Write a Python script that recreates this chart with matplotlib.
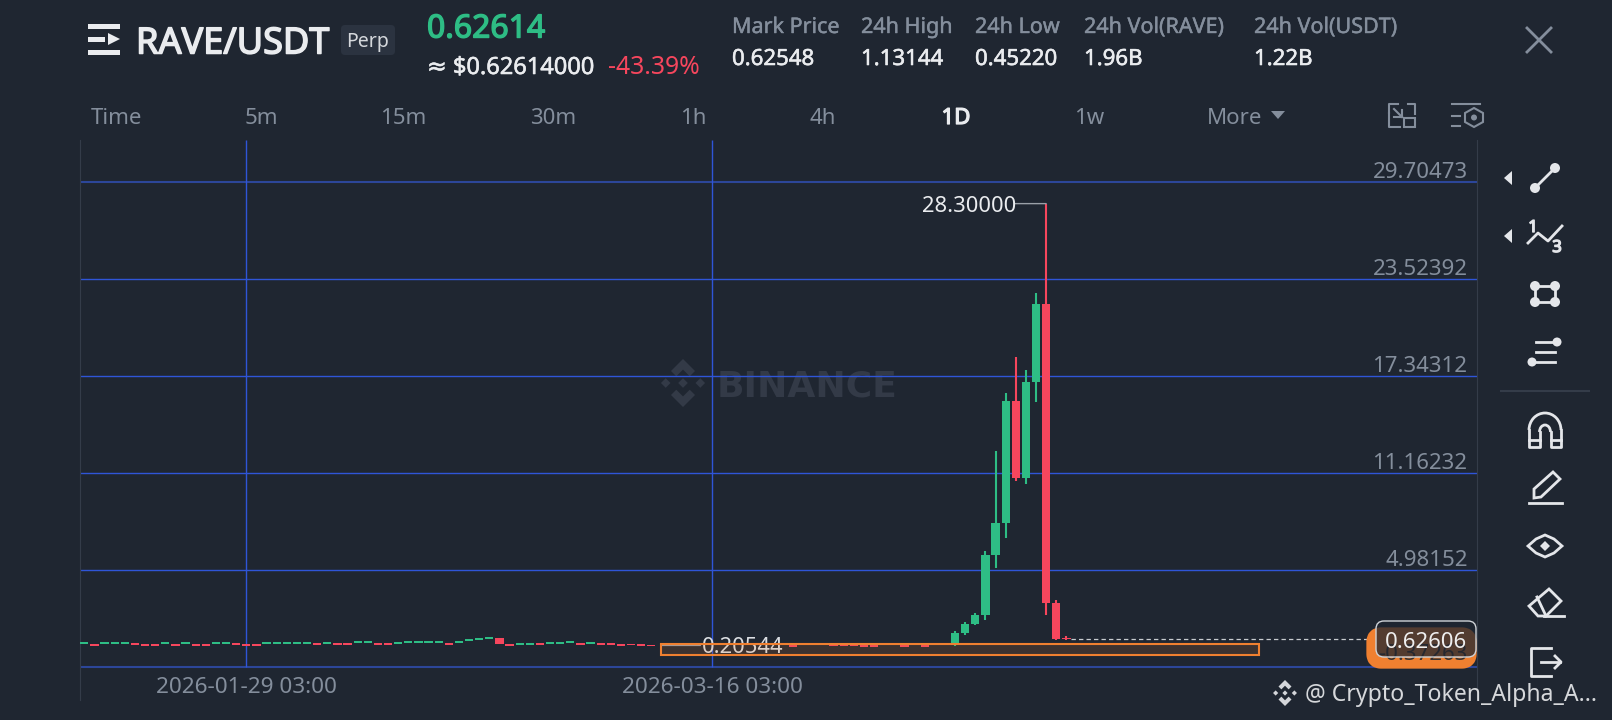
import numpy as np
import matplotlib
matplotlib.use('Agg')
import matplotlib.pyplot as plt
import matplotlib.patheffects as pe
from matplotlib.patches import Polygon, Rectangle, FancyBboxPatch, Circle, Arc

plt.rcParams['font.family'] = ['Noto Sans', 'DejaVu Sans']

# Daily candles, quiet stretch first (bodies only, wicks too small to see)
early_open = [.30, .31, .30, .32, .32, .36, .31, .31, .28, .29, .28, .29, .29, .28, .30, .33, .31, .31, .30, .30,
              .30, .32, .32, .36, .30, .36, .33, .34, .34, .33, .33, .32, .34, .34, .34, .36, .38, .36, .47, .55,
              .64, .66, .27, .23, .26, .35, .32, .32, .34, .35, .30, .35, .33, .27, .29, .27, .26, .25, .24, .24,
              .24, .26, .30, .25, .25, .30, .25, .25, .30, .24, .24, .24, .24, .25, .24, .24, .24, .24, .24, .24,
              .24, .24, .24, .24, .24, .24]
early_close = [.42, .19, .42, .44, .44, .24, .19, .19, .40, .17, .40, .17, .17, .40, .42, .21, .19, .19, .42, .42,
               .42, .44, .44, .24, .42, .24, .21, .46, .46, .21, .21, .44, .46, .46, .46, .48, .26, .48, .59, .67,
               .76, .27, .15, .35, .38, .23, .44, .44, .46, .23, .42, .23, .21, .15, .20, .19, .19, .21, .37, .38,
               .38, .36, .22, .36, .36, .22, .36, .36, .22, .36, .13, .36, .36, .38, .18, .18, .18, .13, .13, .36,
               .36, .12, .36, .12, .36, .36]

# The run up and the crash
late_open = [.23, .97, 1.59, 2.16, 5.93, 8.01, 15.77, 10.87, 16.96, 21.93, 2.90, .66]
late_close = [.975, 1.57, 2.12, 5.93, 8.01, 15.77, 10.87, 16.96, 21.93, 2.90, .61, .626]
late_high = [1.12, 1.67, 2.25, 6.23, 12.57, 16.23, 18.55, 17.72, 22.64, 28.30, 3.09, .80]
late_low = [.18, .89, 1.53, 1.82, 5.15, 7.05, 10.66, 10.49, 15.66, 2.16, .55, .55]

price_ticks = [29.70473, 23.52392, 17.34312, 11.16232, 4.98152, -1.19928]
price_labels = ['29.70473', '23.52392', '17.34312', '11.16232', '4.98152']
date_ticks = [16, 62]
date_labels = ['2026-01-29 03:00', '2026-03-16 03:00']
high_value = 28.30
low_value = 0.20544
last_price = 0.62606
hidden_tag = '-0.37263'

tabs = ['5m', '15m', '30m', '1h', '4h', '1D', '1w', 'More']
tab_x = [261, 403, 553, 693, 823, 956, 1089, 1235]
stats = [('Mark Price', '0.62548', 732), ('24h High', '1.13144', 861), ('24h Low', '0.45220', 975),
         ('24h Vol(RAVE)', '1.96B', 1084), ('24h Vol(USDT)', '1.22B', 1254)]

BG = '#1f2631'
GREEN = '#2ebd85'
RED = '#f6465d'
GRAY = '#848e9c'
WHITE = '#eaecef'
ORANGE = '#f08030'
BLUE = '#2f55d8'
ICON = '#e4e6ea'


def heavy(color, w=0.7):
    # Noto Sans only comes in one weight here, so thicken with a stroke
    return [pe.withStroke(linewidth=w, foreground=color)]


fig = plt.figure(figsize=(16.12, 7.2), dpi=100, facecolor=BG)

# Pixel overlay for the app chrome
ui = fig.add_axes([0, 0, 1, 1], zorder=5)
ui.set_xlim(0, 1612)
ui.set_ylim(720, 0)
ui.axis('off')

# Main chart, scales set so that gridlines land where the screenshot has them
ax = fig.add_axes([79.5 / 1612, 20 / 720, (1477 - 79.5) / 1612, 560 / 720], zorder=2)
ax.set_facecolor(BG)
ax.set_xlim(-0.474, 137.55)
ax.set_ylim(-3.2665, 32.346)
for s in ['top', 'bottom']:
    ax.spines[s].set_visible(False)
for s in ['left', 'right']:
    ax.spines[s].set_color('#343c49')
    ax.spines[s].set_linewidth(0.8)
ax.set_yticks([])
ax.set_xticks(date_ticks)
ax.set_xticklabels([])
ax.tick_params(axis='x', length=0)


def logo(target, cx, cy, r, color, zorder=1):
    shapes = [[(0, -.2), (.2, 0), (0, .2), (-.2, 0)],
              [(-.72, -.2), (-.52, 0), (-.72, .2), (-.92, 0)],
              [(.72, -.2), (.92, 0), (.72, .2), (.52, 0)],
              [(0, -1), (.5, -.5), (.28, -.28), (0, -.56), (-.28, -.28), (-.5, -.5)],
              [(0, 1), (.5, .5), (.28, .28), (0, .56), (-.28, .28), (-.5, .5)]]
    for pts in shapes:
        target.add_patch(Polygon([(cx + a * r, cy + b * r) for a, b in pts], closed=True, fc=color, ec='none',
                                 transform=ui.transData, zorder=zorder, clip_on=False))


# Watermark sits under the grid
logo(ax, 683, 383, 24, '#333a47', zorder=1)
ax.text(807, 383, 'BINANCE', transform=ui.transData, color='#333a47', fontsize=26, fontweight='bold',
        family='DejaVu Sans', ha='center', va='center_baseline', zorder=1)

# Grid
for i, p in enumerate(price_ticks):
    edge = i in (0, len(price_ticks) - 1)
    ax.axhline(p, color='#2c4699' if edge else BLUE, lw=1.5 if edge else 1.0, zorder=2)
for d in date_ticks:
    ax.vlines(d, price_ticks[-1], ax.get_ylim()[1], color=BLUE, lw=1.0, zorder=2)

# Candles
opens = np.array(early_open + late_open)
closes = np.array(early_close + late_close)
idx = np.arange(len(opens))
colors = [GREEN if c >= o else RED for o, c in zip(opens, closes)]
ax.bar(idx, np.abs(closes - opens), bottom=np.minimum(opens, closes), width=0.82, color=colors, zorder=3)
late_idx = idx[len(early_open):]
late_colors = colors[len(early_open):]
ax.vlines(late_idx, late_low, late_high, colors=late_colors, lw=1.5, zorder=3)

# High and low markers
ax.annotate('', xy=(late_idx[9], high_value), xytext=(-31, 0), textcoords='offset pixels',
            arrowprops=dict(arrowstyle='-', color='#9aa0a8', lw=1, shrinkA=0, shrinkB=0), zorder=4)
ax.text(1016, 204, f'{high_value:.5f}', transform=ui.transData, color=WHITE, fontsize=15.8, ha='right',
        va='center_baseline', zorder=4)
ax.annotate('', xy=(57, low_value), xytext=(39, 0), textcoords='offset pixels',
            arrowprops=dict(arrowstyle='-', color='#9aa0a8', lw=1, shrinkA=0, shrinkB=0), zorder=4)
ax.text(702, 645, f'{low_value:.5f}', transform=ui.transData, color='#dcdfe3', fontsize=15.8, ha='left',
        va='center_baseline', zorder=4)

# Last price line
ax.hlines(last_price, late_idx[-1] + 0.5, 127, color='#c8ccd0', lw=0.9, linestyles=(0, (3.5, 2.5)), zorder=4)

# Price labels above their lines
for p, lab in zip(price_ticks, price_labels):
    ax.annotate(lab, xy=(1, p), xycoords=('axes fraction', 'data'), xytext=(-9.5, 12), textcoords='offset pixels',
                color=GRAY, fontsize=16, ha='right', va='center_baseline', zorder=4)

for d, lab in zip(date_ticks, date_labels):
    ax.annotate(lab, xy=(d, 0), xycoords=('data', 'axes fraction'), xytext=(0, 15), textcoords='offset pixels',
                color=GRAY, fontsize=16.2, ha='center', va='center_baseline')

# Low range box and price tags
ui.add_patch(Rectangle((661, 644), 598, 11, fc=ORANGE, alpha=0.14, ec='none', zorder=6))
ui.add_patch(Rectangle((661, 644), 598, 11, fc='none', ec=ORANGE, lw=1.5, zorder=6))
ui.add_patch(FancyBboxPatch((1374, 635), 95, 26, boxstyle='round,pad=0,rounding_size=7', mutation_aspect=1,
                            fc=ORANGE, ec=ORANGE, lw=11, zorder=6, joinstyle='round'))
ui.text(1467, 652, hidden_tag, color='#3a3330', fontsize=16, ha='right', va='center_baseline', zorder=7)
ui.add_patch(FancyBboxPatch((1383, 628), 86, 22, boxstyle='round,pad=7,rounding_size=8', mutation_aspect=1,
                            fc=(30 / 255, 37 / 255, 48 / 255, .75), ec='#cfd3d8', lw=1, zorder=8))
ui.text(1426, 639.5, '0.62606', color='#eeeeee', fontsize=16, ha='center', va='center_baseline', zorder=9)

# Header
for y, x1, in [(26, 120), (39, 105), (52.5, 120)]:
    ui.add_patch(Rectangle((88, y - 2.5), x1 - 88, 5, fc=WHITE, ec='none'))
ui.add_patch(Polygon([(108, 33), (120, 39), (108, 45)], fc=WHITE, ec='none'))
ui.text(136, 40, 'RAVE/USDT', color=WHITE, fontsize=26, ha='left', va='center_baseline',
        path_effects=heavy(WHITE, 1.1))
ui.add_patch(FancyBboxPatch((344, 28), 48, 24, boxstyle='round,pad=3,rounding_size=4', fc='#2b3340', ec='none'))
ui.text(368, 40, 'Perp', color='#d5d8dc', fontsize=14, ha='center', va='center_baseline')
ui.text(427, 25, '0.62614', color=GREEN, fontsize=23, ha='left', va='center_baseline',
        path_effects=heavy(GREEN, 1.0))
ui.text(427, 65, '≈ $0.62614000', color=WHITE, fontsize=17, ha='left', va='center_baseline',
        path_effects=heavy(WHITE, 0.4))
ui.text(608, 65, '-43.39%', color=RED, fontsize=17.8, ha='left', va='center_baseline')
for lab, val, x in stats:
    ui.text(x, 25, lab, color=GRAY, fontsize=15.5, ha='left', va='center_baseline', path_effects=heavy(GRAY, 0.3))
    ui.text(x, 57, val, color=WHITE, fontsize=16, ha='left', va='center_baseline', path_effects=heavy(WHITE, 0.4))
ui.plot([1527, 1551], [28, 52], color=GRAY, lw=2)
ui.plot([1551, 1527], [28, 52], color=GRAY, lw=2)

# Interval tabs
ui.text(91, 116, 'Time', color=GRAY, fontsize=16, ha='left', va='center_baseline')
for lab, x in zip(tabs, tab_x):
    on = lab == '1D'
    ui.text(x, 116, lab, color=WHITE if on else GRAY, fontsize=16, ha='center', va='center_baseline',
            path_effects=heavy(WHITE, 0.9) if on else None)
ui.add_patch(Polygon([(1271, 111), (1285, 111), (1278, 119)], fc=GRAY, ec='none'))

# Small chart buttons
ui.plot([1389, 1389, 1398], [113, 104, 104], color=GRAY, lw=1.5)
ui.plot([1408, 1415, 1415], [104, 104, 114], color=GRAY, lw=1.5)
ui.plot([1389, 1389, 1400], [113, 127, 127], color=GRAY, lw=1.5)
ui.add_patch(Rectangle((1404, 118), 11, 9, fc='none', ec=GRAY, lw=1.5))
ui.plot([1394, 1402], [109, 117], color=GRAY, lw=1.5)
ui.plot([1402, 1402], [110, 117], color=GRAY, lw=1.5)
ui.plot([1394, 1402], [117, 117], color=GRAY, lw=1.5)
for y, x0, x1 in [(104, 1452, 1480), (116, 1452, 1460), (126, 1452, 1460)]:
    ui.plot([x0, x1], [y, y], color=GRAY, lw=1.5)
ui.add_patch(Polygon([(1474, 108), (1483, 113), (1483, 122), (1474, 127), (1465, 122), (1465, 113)],
                     fc='none', ec=GRAY, lw=1.5))
ui.add_patch(Circle((1474, 117.5), 3, fc=GRAY, ec='none'))

# Drawing tool column
for y in [178, 236]:
    ui.add_patch(Polygon([(1512, y - 7), (1512, y + 7), (1504, y)], fc=ICON, ec='none'))
ui.plot([1535, 1555], [188, 168], color=ICON, lw=2)
ui.add_patch(Circle((1535, 188), 5, fc=ICON, ec='none'))
ui.add_patch(Circle((1555, 168), 5, fc=ICON, ec='none'))

ui.plot([1528, 1538, 1548, 1562], [243, 233, 241, 226], color=ICON, lw=2)
ui.text(1533, 226, '1', color=ICON, fontsize=12, ha='center', va='center_baseline', path_effects=heavy(ICON, 1.0))
ui.text(1557, 246, '3', color=ICON, fontsize=12, ha='center', va='center_baseline', path_effects=heavy(ICON, 1.0))

ui.add_patch(Rectangle((1535, 286), 20, 16, fc='none', ec=ICON, lw=2))
for cx, cy in [(1535, 286), (1555, 286), (1535, 302), (1555, 302)]:
    ui.add_patch(Circle((cx, cy), 5, fc=ICON, ec='none'))

for y, x0, x1 in [(342, 1536, 1556), (352, 1536, 1555), (362, 1532, 1555)]:
    ui.plot([x0, x1], [y, y], color=ICON, lw=2)
ui.add_patch(Circle((1557, 342), 4.5, fc=ICON, ec='none'))
ui.add_patch(Circle((1532, 362), 4.5, fc=ICON, ec='none'))

ui.plot([1501, 1589], [391, 391], color='#343c49', lw=1.5)

# magnet
ui.add_patch(Arc((1545, 430), 32, 34, theta1=180, theta2=360, ec=ICON, lw=2))
ui.add_patch(Arc((1545, 432), 11, 14, theta1=180, theta2=360, ec=ICON, lw=2))
ui.plot([1529, 1529, 1539.5, 1539.5], [430, 447, 447, 432], color=ICON, lw=2)
ui.plot([1561, 1561, 1550.5, 1550.5], [430, 447, 447, 432], color=ICON, lw=2)
ui.plot([1529, 1539.5], [440, 440], color=ICON, lw=2)
ui.plot([1550.5, 1561], [440, 440], color=ICON, lw=2)

# pencil
ui.add_patch(Polygon([(1534, 489), (1553, 472), (1560, 479), (1541, 497), (1534, 498)], fc='none', ec=ICON, lw=2))
ui.plot([1529, 1562], [503, 503], color=ICON, lw=2)

# eye
ui.add_patch(Polygon([(1528, 546), (1536, 539), (1545, 535), (1554, 539), (1562, 546), (1554, 553), (1545, 557),
                      (1536, 553)], fc='none', ec=ICON, lw=2))
ui.add_patch(Polygon([(1545, 541), (1550, 546), (1545, 551), (1540, 546)], fc=ICON, ec='none'))

# eraser
ui.add_patch(Polygon([(1529, 606), (1549, 589), (1561, 601), (1546, 616), (1538, 616)], fc='none', ec=ICON, lw=2))
ui.plot([1537, 1546], [597, 616], color=ICON, lw=2)
ui.plot([1544, 1564], [616, 616], color=ICON, lw=2)

# exit
ui.plot([1551, 1531, 1531, 1551], [648, 648, 676, 676], color=ICON, lw=2)
ui.plot([1541, 1560], [662, 662], color=ICON, lw=2)
ui.plot([1555, 1561, 1555], [656, 662, 668], color=ICON, lw=2)

# Poster credit
logo(ui, 1285, 693, 13, '#d4d6da', zorder=6)
ui.text(1305, 692, '@ Crypto_Token_Alpha_A...', color='#d6d8db', fontsize=16.6, ha='left', va='center_baseline',
        zorder=6)

fig.savefig('out.png', dpi=100, facecolor=BG)
